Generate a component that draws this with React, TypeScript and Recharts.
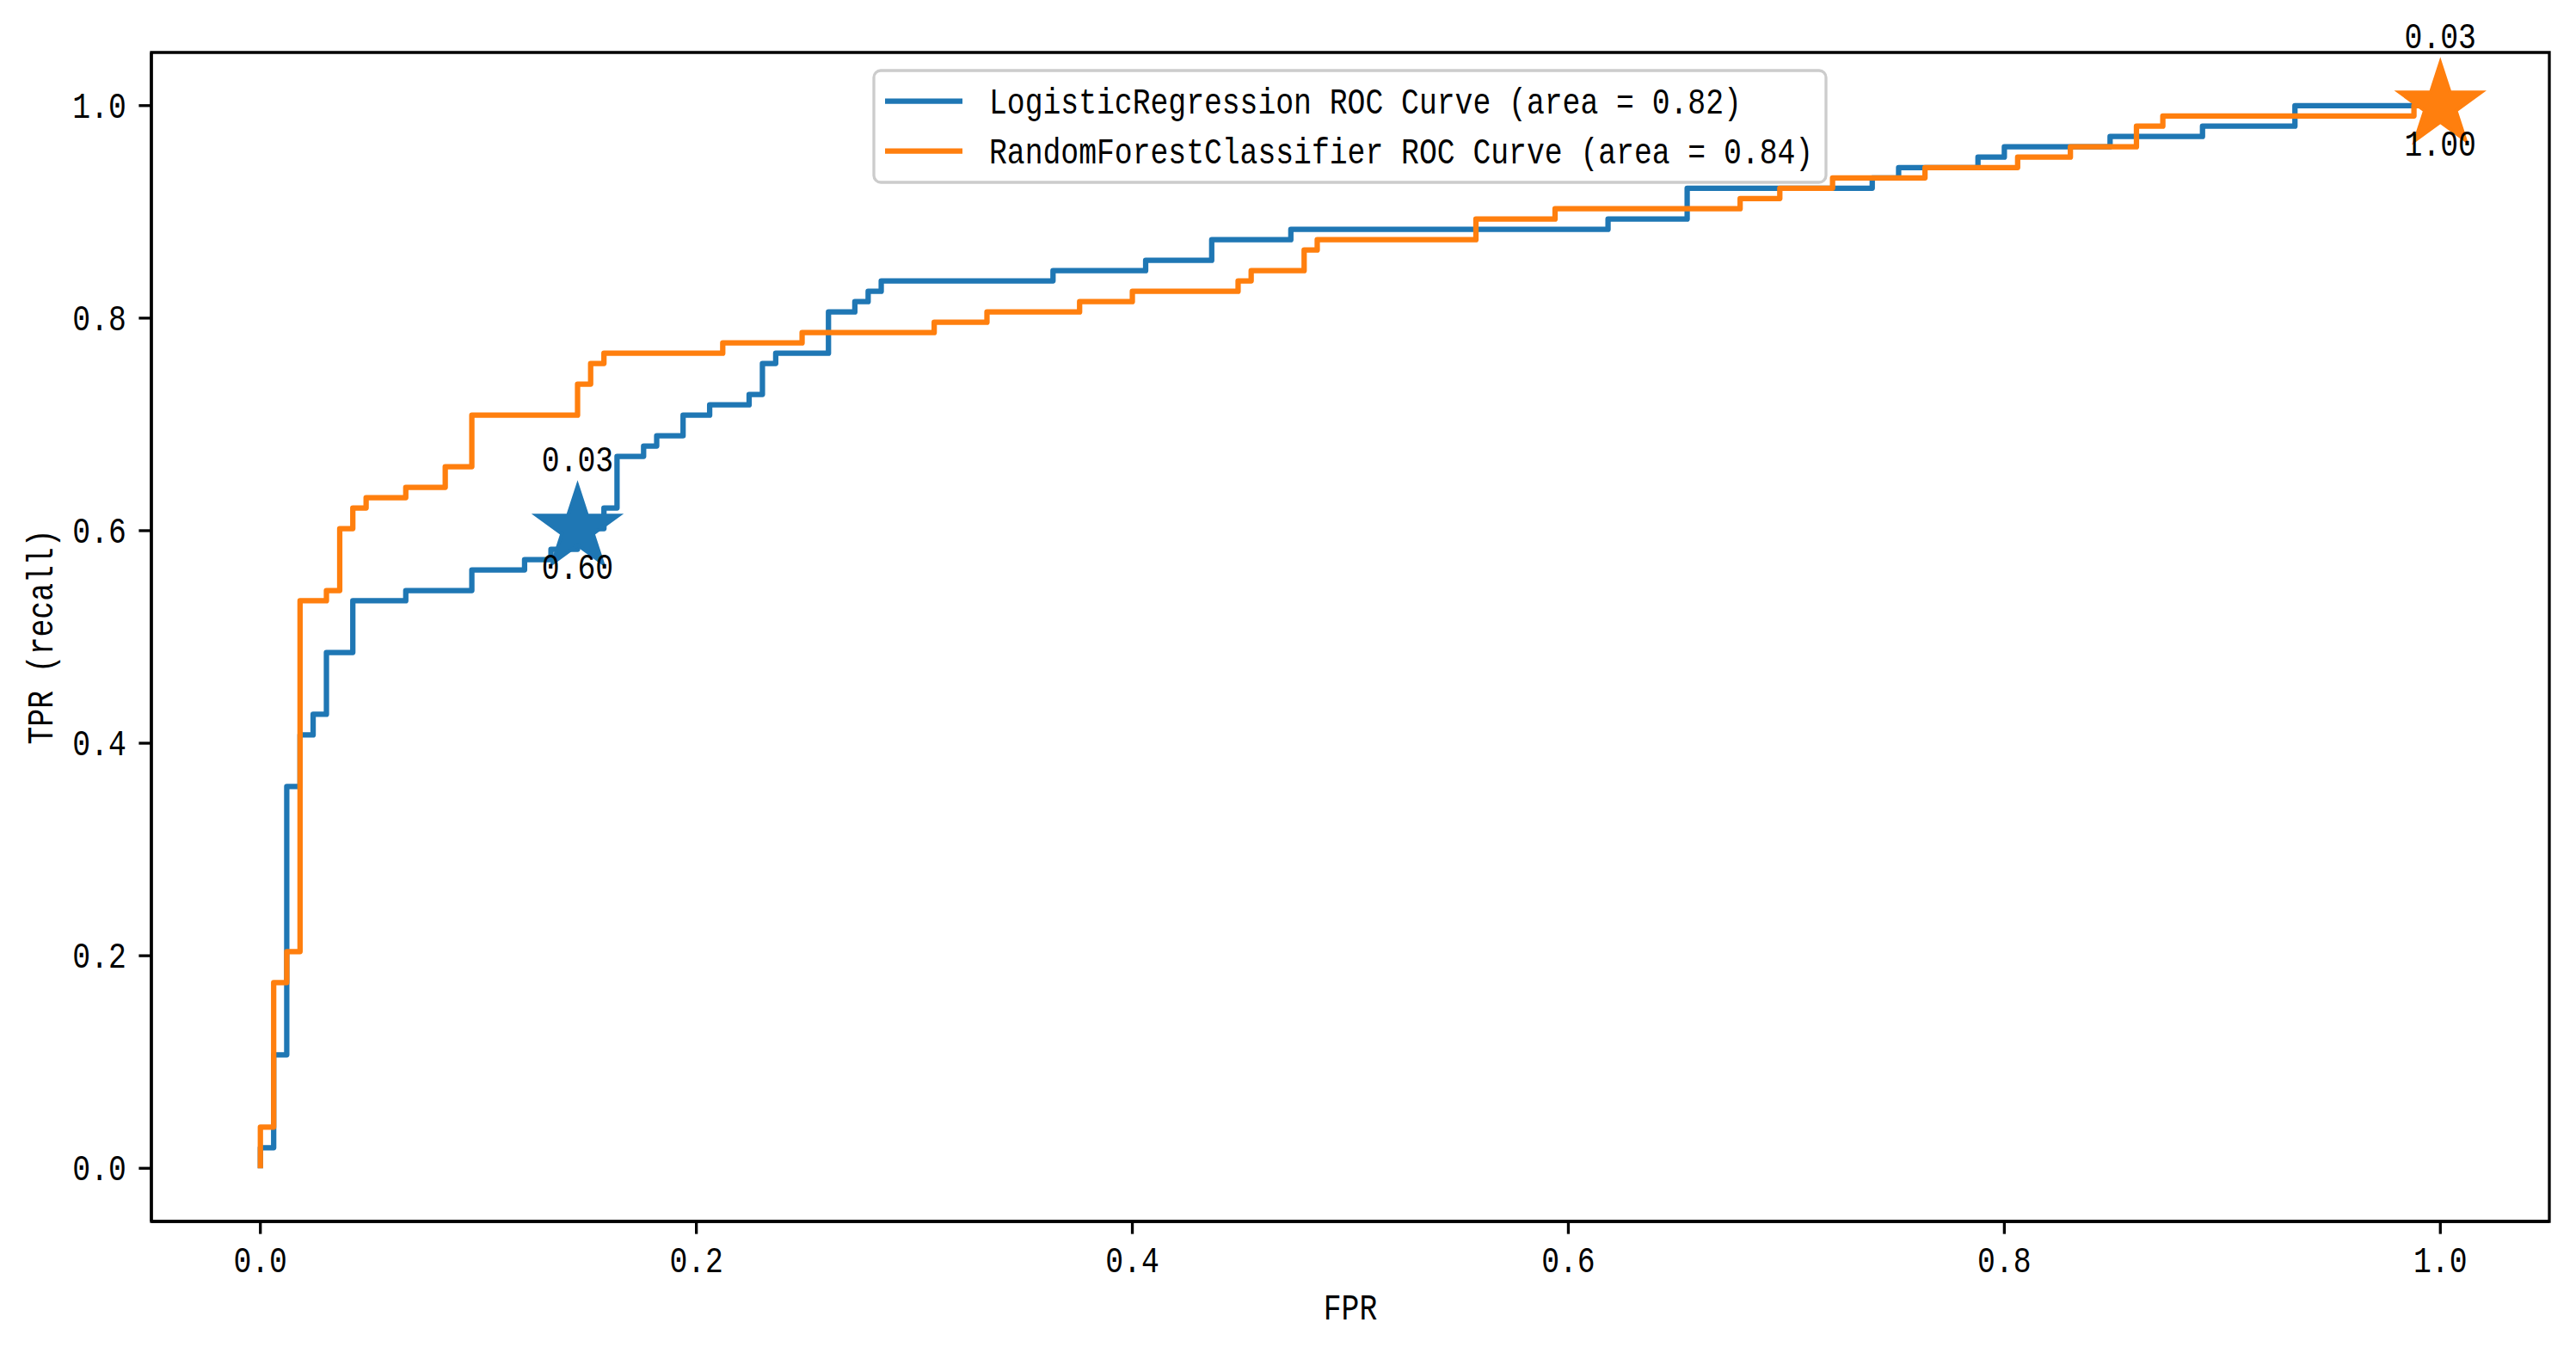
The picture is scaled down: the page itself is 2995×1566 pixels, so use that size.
import React from "react";
import {
  ComposedChart,
  Line,
  Scatter,
  XAxis,
  YAxis,
  ReferenceArea,
} from "recharts";

// ROC points (fpr / tpr corners of the step curves)
const LR_FPR = [
  0, 0, 0.0061, 0.0061, 0.0121, 0.0121, 0.0182, 0.0182, 0.0242, 0.0242, 0.0303,
  0.0303, 0.0424, 0.0424, 0.0667, 0.0667, 0.097, 0.097, 0.1212, 0.1212, 0.1333,
  0.1333, 0.1455, 0.1455, 0.1576, 0.1576, 0.1636, 0.1636, 0.1758, 0.1758,
  0.1818, 0.1818, 0.1939, 0.1939, 0.2061, 0.2061, 0.2242, 0.2242, 0.2303,
  0.2303, 0.2364, 0.2364, 0.2606, 0.2606, 0.2727, 0.2727, 0.2788, 0.2788,
  0.2848, 0.2848, 0.3636, 0.3636, 0.4061, 0.4061, 0.4364, 0.4364, 0.4727,
  0.4727, 0.6182, 0.6182, 0.6545, 0.6545, 0.7394, 0.7394, 0.7515, 0.7515,
  0.7879, 0.7879, 0.8, 0.8, 0.8485, 0.8485, 0.8909, 0.8909, 0.9333, 0.9333, 1.0,
];
const LR_TPR = [
  0, 0.0194, 0.0194, 0.1068, 0.1068, 0.3592, 0.3592, 0.4078, 0.4078, 0.4272,
  0.4272, 0.4854, 0.4854, 0.534, 0.534, 0.5437, 0.5437, 0.5631, 0.5631, 0.5728,
  0.5728, 0.5825, 0.5825, 0.6019, 0.6019, 0.6214, 0.6214, 0.6699, 0.6699,
  0.6796, 0.6796, 0.6893, 0.6893, 0.7087, 0.7087, 0.7184, 0.7184, 0.7282,
  0.7282, 0.7573, 0.7573, 0.767, 0.767, 0.8058, 0.8058, 0.8155, 0.8155, 0.8252,
  0.8252, 0.835, 0.835, 0.8447, 0.8447, 0.8544, 0.8544, 0.8738, 0.8738, 0.8835,
  0.8835, 0.8932, 0.8932, 0.9223, 0.9223, 0.932, 0.932, 0.9417, 0.9417, 0.9515,
  0.9515, 0.9612, 0.9612, 0.9709, 0.9709, 0.9806, 0.9806, 1.0, 1.0,
];

const RF_FPR = [
  0, 0, 0.0061, 0.0061, 0.0121, 0.0121, 0.0182, 0.0182, 0.0303, 0.0303, 0.0364,
  0.0364, 0.0424, 0.0424, 0.0485, 0.0485, 0.0667, 0.0667, 0.0848, 0.0848, 0.097,
  0.097, 0.1455, 0.1455, 0.1515, 0.1515, 0.1576, 0.1576, 0.2121, 0.2121,
  0.2485, 0.2485, 0.3091, 0.3091, 0.3333, 0.3333, 0.3758, 0.3758, 0.4, 0.4,
  0.4485, 0.4485, 0.4545, 0.4545, 0.4788, 0.4788, 0.4848, 0.4848, 0.5576,
  0.5576, 0.5939, 0.5939, 0.6788, 0.6788, 0.697, 0.697, 0.7212, 0.7212, 0.7636,
  0.7636, 0.8061, 0.8061, 0.8303, 0.8303, 0.8606, 0.8606, 0.8727, 0.8727,
  0.9879, 0.9879, 1.0,
];
const RF_TPR = [
  0, 0.0388, 0.0388, 0.1748, 0.1748, 0.2039, 0.2039, 0.534, 0.534, 0.5437,
  0.5437, 0.6019, 0.6019, 0.6214, 0.6214, 0.6311, 0.6311, 0.6408, 0.6408,
  0.6602, 0.6602, 0.7087, 0.7087, 0.7379, 0.7379, 0.7573, 0.7573, 0.767, 0.767,
  0.7767, 0.7767, 0.7864, 0.7864, 0.7961, 0.7961, 0.8058, 0.8058, 0.8155,
  0.8155, 0.8252, 0.8252, 0.835, 0.835, 0.8447, 0.8447, 0.8641, 0.8641, 0.8738,
  0.8738, 0.8932, 0.8932, 0.9029, 0.9029, 0.9126, 0.9126, 0.9223, 0.9223, 0.932,
  0.932, 0.9417, 0.9417, 0.9515, 0.9515, 0.9612, 0.9612, 0.9806, 0.9806,
  0.9903, 0.9903, 1.0, 1.0,
];

// best-threshold markers: position, threshold (above) and tpr (below)
const LR_BEST = [{ fpr: 0.1455, tpr: 0.6019, above: "0.03", below: "0.60" }];
const RF_BEST = [{ fpr: 1.0, tpr: 1.0, above: "0.03", below: "1.00" }];

const X_TICKS = [0, 0.2, 0.4, 0.6, 0.8, 1.0];
const Y_TICKS = [0, 0.2, 0.4, 0.6, 0.8, 1.0];

const SERIES_NAMES = [
  "LogisticRegression ROC Curve (area = 0.82)",
  "RandomForestClassifier ROC Curve (area = 0.84)",
];

const BLUE = "#1f77b4";
const ORANGE = "#ff7f0e";

const W = 2995;
const H = 1566;
const FONT = "'Liberation Mono', 'DejaVu Sans Mono', monospace";
const FS = 41.7;
const CW = 20.83; // half-width cell of the CJK font used in the picture

const toRows = (xs: number[], ys: number[]) =>
  xs.map((x, i) => ({ fpr: x, tpr: ys[i] }));

const lrData = toRows(LR_FPR, LR_TPR);
const rfData = toRows(RF_FPR, RF_TPR);

function MonoText(props: {
  x: number;
  y: number;
  text: string;
  anchor?: "start" | "middle" | "end";
  transform?: string;
}) {
  const { x, y, text, anchor = "start", transform } = props;
  return (
    <text
      x={x}
      y={y}
      textAnchor={anchor}
      fontFamily={FONT}
      fontSize={FS}
      fill="#000"
      textLength={text.length * CW}
      lengthAdjust="spacingAndGlyphs"
      transform={transform}
    >
      {text}
    </text>
  );
}

const starPath = (cx: number, cy: number, R: number) => {
  const r = R * 0.381966;
  const pts: string[] = [];
  for (let k = 0; k < 10; k++) {
    const a = (-90 + k * 36) * (Math.PI / 180);
    const rad = k % 2 === 0 ? R : r;
    pts.push(`${cx + rad * Math.cos(a)},${cy + rad * Math.sin(a)}`);
  }
  return `M${pts.join("L")}Z`;
};

const makeStar = (color: string) => (props: any) => {
  const { cx, cy, payload } = props;
  if (cx == null || cy == null) return null;
  return (
    <g>
      <path
        d={starPath(cx, cy, 50)}
        fill={color}
        stroke={color}
        strokeWidth={4}
        strokeLinejoin="miter"
      />
      <MonoText x={cx} y={cy - 67} text={payload.above} anchor="middle" />
      <MonoText x={cx} y={cy + 58} text={payload.below} anchor="middle" />
    </g>
  );
};

const XTick = (props: any) => {
  const { x, y, payload } = props;
  return (
    <MonoText x={x} y={y + 30} text={payload.value.toFixed(1)} anchor="middle" />
  );
};

const YTick = (props: any) => {
  const { x, y, payload } = props;
  return (
    <MonoText x={x} y={y + 14} text={payload.value.toFixed(1)} anchor="end" />
  );
};

const XLabel = (props: any) => {
  const vb = props.viewBox;
  return (
    <MonoText x={vb.x + vb.width / 2} y={vb.y + 114} text="FPR" anchor="middle" />
  );
};

const YLabel = (props: any) => {
  const vb = props.viewBox;
  const cx = vb.x + 47;
  const cy = vb.y + vb.height / 2;
  return (
    <MonoText
      x={cx}
      y={cy + 14}
      text="TPR (recall)"
      anchor="middle"
      transform={`rotate(-90, ${cx}, ${cy})`}
    />
  );
};

function LegendBox() {
  const colors = [BLUE, ORANGE];
  const rows = [117.7, 175.5];
  return (
    <svg
      width={W}
      height={H}
      style={{ position: "absolute", left: 0, top: 0, pointerEvents: "none" }}
    >
      <rect
        x={1016}
        y={82}
        width={1107}
        height={130}
        rx={8}
        ry={8}
        fill="#ffffff"
        fillOpacity={0.8}
        stroke="#cccccc"
        strokeWidth={3.3}
      />
      {SERIES_NAMES.map((name, i) => (
        <g key={name}>
          <line
            x1={1029}
            x2={1119}
            y1={rows[i]}
            y2={rows[i]}
            stroke={colors[i]}
            strokeWidth={6.25}
          />
          <MonoText x={1150} y={rows[i] + 14} text={name} />
        </g>
      ))}
    </svg>
  );
}

export default function App() {
  return (
    <div
      style={{
        position: "absolute",
        left: 0,
        top: 0,
        width: W,
        height: H,
        background: "#fff",
        overflow: "hidden",
      }}
    >
      <ComposedChart
        width={W}
        height={H}
        margin={{ top: 61, right: 31, bottom: 0, left: 0 }}
      >
        <XAxis
          type="number"
          dataKey="fpr"
          domain={[-0.05, 1.05]}
          ticks={X_TICKS}
          height={146}
          tickSize={14.6}
          tickMargin={14.6}
          tick={<XTick />}
          tickLine={{ stroke: "#000", strokeWidth: 3.3 }}
          axisLine={{ stroke: "#000", strokeWidth: 3.3 }}
          label={<XLabel />}
        />
        <YAxis
          type="number"
          dataKey="tpr"
          domain={[-0.05, 1.05]}
          ticks={Y_TICKS}
          width={176}
          tickSize={14.6}
          tickMargin={14.6}
          tick={<YTick />}
          tickLine={{ stroke: "#000", strokeWidth: 3.3 }}
          axisLine={{ stroke: "#000", strokeWidth: 3.3 }}
          label={<YLabel />}
        />
        <ReferenceArea
          x1={-0.05}
          x2={1.05}
          y1={-0.05}
          y2={1.05}
          fill="none"
          fillOpacity={0}
          stroke="#000"
          strokeWidth={3.3}
          ifOverflow="visible"
        />
        <Line
          data={lrData}
          dataKey="tpr"
          type="linear"
          stroke={BLUE}
          strokeWidth={6.25}
          strokeLinejoin="round"
          dot={false}
          activeDot={false}
          isAnimationActive={false}
        />
        <Scatter
          data={LR_BEST}
          dataKey="tpr"
          shape={makeStar(BLUE)}
          isAnimationActive={false}
        />
        <Line
          data={rfData}
          dataKey="tpr"
          type="linear"
          stroke={ORANGE}
          strokeWidth={6.25}
          strokeLinejoin="round"
          dot={false}
          activeDot={false}
          isAnimationActive={false}
        />
        <Scatter
          data={RF_BEST}
          dataKey="tpr"
          shape={makeStar(ORANGE)}
          isAnimationActive={false}
        />
      </ComposedChart>
      <LegendBox />
    </div>
  );
}
